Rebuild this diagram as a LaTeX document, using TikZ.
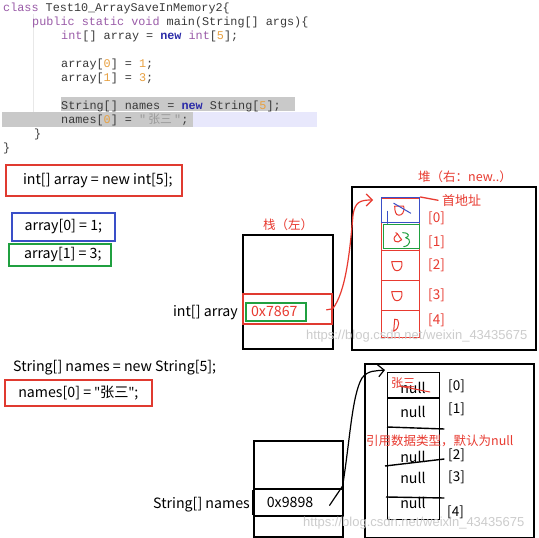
\documentclass[tikz,border=0pt]{standalone}
\usepackage{fontspec}
\setmainfont{Noto Sans CJK SC}
\setmonofont{Liberation Mono}
\newfontfamily\cjk{Noto Sans CJK SC}
\newfontfamily\latin{Noto Sans}
\newfontfamily\wmfamily{Liberation Sans}
\usepackage{tikz}
\usetikzlibrary{positioning, arrows.meta, calc}
\definecolor{kwpurple}{HTML}{9A5BA8}
\definecolor{newblue}{HTML}{2A2AA8}
\definecolor{numorange}{HTML}{E8A040}
\definecolor{strgrey}{HTML}{9A9A9A}
\definecolor{codegrey}{HTML}{3A3A3A}
\definecolor{hlgrey}{HTML}{C9C9C9}
\definecolor{hllav}{HTML}{E8E8FC}
\definecolor{boxred}{HTML}{E03A30}
\definecolor{boxblue}{HTML}{3A4FC8}
\definecolor{boxgreen}{HTML}{20A040}
\definecolor{markred}{HTML}{E83A30}
\newcommand{\codefont}{\ttfamily\fontsize{11.8}{14}\selectfont}
\newcommand{\stmtfont}{\fontsize{14.2}{16}\selectfont}
\newcommand{\idxfont}{\fontsize{13.5}{15}\selectfont}
\newcommand{\notefont}{\fontsize{12.5}{14}\selectfont}
\newcommand{\kw}[1]{\textcolor{kwpurple}{#1}}
\newcommand{\nw}[1]{\textcolor{newblue}{\bfseries #1}}
\newcommand{\cnum}[1]{\textcolor{numorange}{#1}}

\begin{document}
\begin{tikzpicture}[
    x=1pt, y=-1pt,
    codeline/.style={anchor=base west, inner sep=0pt, font=\codefont, text=codegrey},
    stmt/.style={anchor=north west, inner sep=0pt, font=\stmtfont, text=black, line width=1.6pt},
    plain/.style={inner sep=0pt, font=\stmtfont},
    memory/.style={draw=black, line width=1.6pt, anchor=north west, inner sep=0pt},
    cellbox/.style={draw=markred, line width=1.4pt, anchor=north west, inner sep=0pt},
    idx/.style={anchor=west, inner sep=0pt, font=\idxfont},
    note/.style={inner sep=0pt, text=markred, font=\notefont},
    hand/.style={line width=1pt, line cap=round, line join=round},
    handarr/.style={hand, -{Straight Barb[length=6pt, width=12pt]}},
]
    \useasboundingbox[fill=white] (0,0) rectangle (539,538);

    % editor highlights
    \fill[hlgrey] (61,97) rectangle (295,111);
    \fill[hlgrey] (2,112) rectangle (193,127);
    \fill[hllav] (193,112) rectangle (317,127);
    \draw[gray!18] (33,14) -- (33,112);

    % code
    \node[codeline] (cls) at (3,11) {\kw{class} Test10\_ArraySaveInMemory2\{};
    \node[codeline] (mainsig) at (32,25) {\kw{public static void} main(String[] args)\{};
    \node[codeline] (decl) at (61,39) {\kw{int}[] array = \nw{new} \kw{int}[\cnum{5}];};
    \node[codeline] (set0) at (61,67) {array[\cnum{0}] = \cnum{1};};
    \node[codeline] (set1) at (61,81) {array[\cnum{1}] = \cnum{3};};
    \node[codeline] (strdecl) at (61,109) {String[] names = \nw{new} String[\cnum{5}];};
    \node[codeline] (strset) at (61,123) {names[\cnum{0}] = \textcolor{strgrey}{"\makebox[28pt]{\cjk 张三}"};};
    \node[codeline] (close1) at (34,137) {\}};
    \node[codeline] (close2) at (3,151) {\}};

    % statements
    \node[stmt, draw=boxred, minimum width=176pt, minimum height=31pt] (newstmt) at (5,164) {\hspace*{8pt}int[] array = new int[5];};
    \node[stmt, draw=boxblue, minimum width=103pt, minimum height=28pt] (setzero) at (11,212) {array[0] = 1;};
    \node[stmt, draw=boxgreen, minimum width=102pt, minimum height=22pt] (setone) at (8,243) {\raisebox{3pt}{\hspace*{6pt}array[1] = 3;}};
    \node[plain, anchor=west] (namesdecl) at (13,368) {String[] names = new String[5];};
    \node[stmt, draw=boxred, minimum width=147pt, minimum height=26pt] (namesset) at (4,379) {names[0] = {\latin"}张三{\latin"};};

    % stack, int array
    \node[note] (stackAtitle) at (288,225) {栈（左）};
    \node[memory, minimum width=90pt, minimum height=114pt] (stackA) at (242,234) {};
    \node[cellbox, draw=boxred, line width=1.6pt, minimum width=89pt, minimum height=30pt] (rowA) at (242,293) {};
    \node[stmt, draw=boxgreen, minimum width=60pt, minimum height=18pt, text=markred] (addrA) at (245,302) {0x7867\hspace*{3pt}};
    \node[plain, anchor=east] (lblA) at (238,313) {int[] array};

    % heap, int array
    \node[note] (heapAtitle) at (465,177) {堆（右：new..）};
    \node[memory, minimum width=184pt, minimum height=163pt] (heapA) at (351,186) {};
    \node[cellbox, minimum width=38pt, minimum height=139pt] (colA) at (381,198) {};
    \node[cellbox, minimum width=38pt, minimum height=30pt] (cellA2) at (381,250) {};
    \node[cellbox, minimum width=38pt, minimum height=30pt] (cellA3) at (381,280) {};
    \node[cellbox, minimum width=38pt, minimum height=27pt] (cellA4) at (381,310) {};
    \node[cellbox, draw=boxblue, minimum width=38pt, minimum height=25pt] (cellA0) at (381,197) {};
    \node[cellbox, draw=boxgreen, minimum width=36pt, minimum height=24pt] (cellA1) at (383,224) {};
    \foreach \i/\y in {0/218, 1/242, 2/265, 3/295, 4/320}
        \node[idx, text=markred] (idxA\i) at (428,\y) {[\i]};
    \node[note, anchor=west, font=\fontsize{13}{15}\selectfont] (firstaddr) at (442,201) {首地址};
    \draw[hand, markred, line width=1.3pt, shorten >=4pt] (cellA0.north east) -- (firstaddr.west);

    % hand written zeros
    \foreach \c in {cellA2, cellA3}
        \draw[hand, markred] ($(\c.center)+(-9,-4)$) -- ($(\c.center)+(1,-4)$)
            .. controls ($(\c.center)+(2,3)$) and ($(\c.center)+(-1,5)$) .. ($(\c.center)+(-4,5)$)
            .. controls ($(\c.center)+(-7,5)$) and ($(\c.center)+(-8,1)$) .. cycle;
    \draw[hand, markred] ($(cellA4.center)+(-6,-5)$) .. controls ($(cellA4.center)+(-1,-7)$) and ($(cellA4.center)+(0,4)$) .. ($(cellA4.center)+(-7,7)$) -- cycle;
    \draw[hand, markred] ($(cellA0.center)+(-6,-4)$) -- ($(cellA0.center)+(3,-4)$)
        .. controls ($(cellA0.center)+(4,3)$) and ($(cellA0.center)+(1,5)$) .. ($(cellA0.center)+(-2,5)$)
        .. controls ($(cellA0.center)+(-5,5)$) and ($(cellA0.center)+(-6,1)$) .. cycle;
    \draw[hand, boxblue] ($(cellA0.center)+(-7,-7)$) -- ($(cellA0.center)+(10,3)$);
    \draw[hand, boxblue] ($(cellA0.south west)+(6,0)$) -- ($(cellA0.south west)+(6,-12)$);
    \draw[hand, markred] ($(cellA1.center)+(-5,-2)$) .. controls ($(cellA1.center)+(-12,4)$) and ($(cellA1.center)+(-4,8)$) .. ($(cellA1.center)+(0,3)$)
        .. controls ($(cellA1.center)+(-3,0)$) and ($(cellA1.center)+(-4,-4)$) .. ($(cellA1.center)+(-6,-4)$);
    \draw[hand, boxgreen] ($(cellA1.center)+(1,-4)$) .. controls ($(cellA1.center)+(8,-4)$) and ($(cellA1.center)+(8,0)$) .. ($(cellA1.center)+(4,1)$)
        .. controls ($(cellA1.center)+(10,2)$) and ($(cellA1.center)+(9,9)$) .. ($(cellA1.center)+(2,10)$);

    \coordinate (heapAin) at ($(colA.north west)+(-8,2)$);
    \draw[handarr, markred, line width=1.2pt] ($(rowA.east)+(-6,1)$) -- (rowA.east)
        .. controls (346,292) and (350,250) .. (353,215)
        .. controls (355,202) and (360,200) .. (heapAin);

    % stack, String array
    \node[memory, minimum width=89pt, minimum height=96pt] (stackB) at (253,440) {};
    \node[memory, minimum width=89pt, minimum height=27pt, inner xsep=13pt, text width=63pt, align=left, font=\stmtfont] (rowB) at (253,488) {0x9898};
    \draw[line width=3pt] ($(rowB.north west)+(0,2)$) -- ($(rowB.south west)+(0,-2)$);
    \node[plain, anchor=east] (lblB) at (250,505) {String[] names};

    % heap, String array
    \node[memory, minimum width=169pt, minimum height=174pt] (heapB) at (364,363) {};
    \node[draw=black, line width=1.4pt, anchor=north west, inner sep=0pt, minimum width=52pt, minimum height=147pt] (colB) at (387,372) {};
    \draw[line width=1.4pt] ($(colB.north west)+(0,26)$) -- ($(colB.north east)+(0,26)$);
    \draw[line width=1.4pt] ($(colB.north west)+(0,55)$) -- ($(colB.north east)+(4,57)$);
    \draw[line width=1.4pt] ($(colB.north west)+(-2,94)$) -- ($(colB.north east)+(4,87)$);
    \draw[line width=1.4pt] ($(colB.north west)+(-1,125)$) -- ($(colB.north east)+(4,126)$);
    \foreach \i/\y in {0/388, 1/412, 2/457, 3/478, 4/503}
        \node[plain] (nullB\i) at (413,\y) {null};
    \foreach \i/\y in {0/386, 1/409, 2/455, 3/477}
        \node[idx] (idxB\i) at (448,\y) {[\i]};
    \node[idx] (idxB4) at (447,512) {[4]};
    \node[note, anchor=west, font=\fontsize{12}{14}\selectfont] (zhangsan) at (391,383) {张三};
    \draw[hand, markred] ($(nullB0.west)+(-1,-2)$) -- ($(nullB0.east)+(4,4)$);
    \node[note, anchor=west] (refnote) at (366,441) {引用数据类型，默认为null};

    \coordinate (heapBin) at ($(colB.north west)+(-2,-2)$);
    \draw[handarr, line width=1.2pt] ($(rowB.east)+(-14,3)$) -- ($(rowB.north east)+(-1,-2)$)
        .. controls (350,440) and (352,395) .. (362,378)
        .. controls (368,370) and (376,371) .. (heapBin);

    % watermarks
    \node[anchor=west, inner sep=0pt, text=gray!40, font=\wmfamily\fontsize{13}{15}\selectfont] (wmA) at (306,336) {https://blog.csdn.net/weixin\_43435675};
    \node[anchor=west, inner sep=0pt, text=gray!40, font=\wmfamily\fontsize{13}{15}\selectfont] (wmB) at (303,523) {https://blog.csdn.net/weixin\_43435675};
\end{tikzpicture}
\end{document}
